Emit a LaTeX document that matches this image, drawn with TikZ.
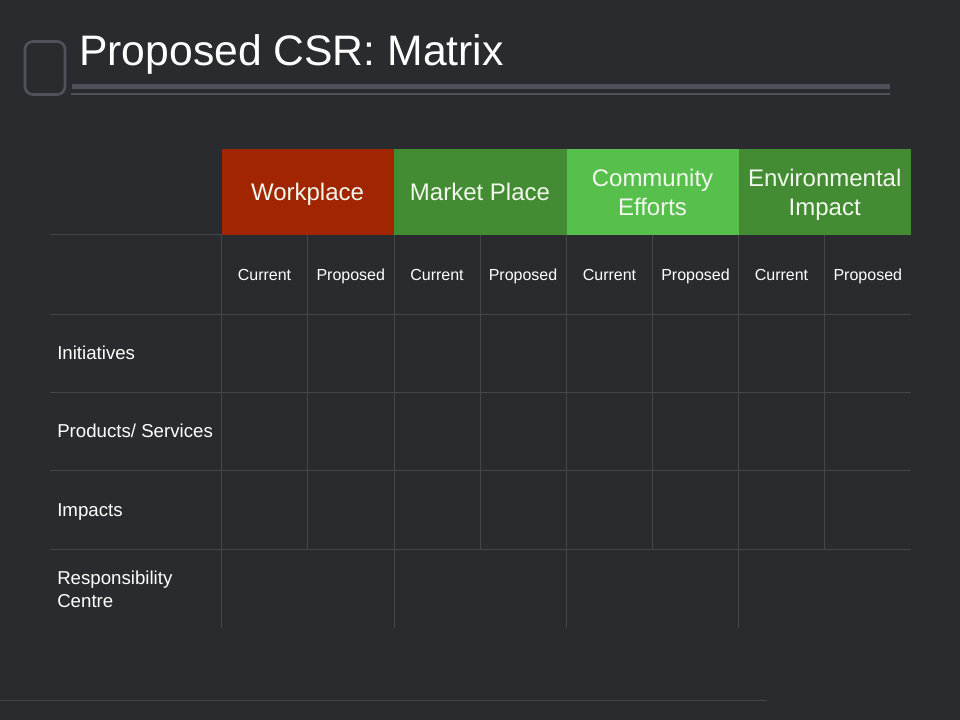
\documentclass[tikz,border=0pt]{standalone}
\usepackage{fontspec}
\setmainfont{Liberation Sans}
\definecolor{bgc}{HTML}{2A2B2F}
\definecolor{gridc}{HTML}{45464A}
\definecolor{barc}{HTML}{50515A}
\definecolor{redc}{HTML}{A02500}
\definecolor{greenc}{HTML}{438C33}
\definecolor{lightc}{HTML}{57C04C}
\definecolor{headtxt}{HTML}{F2F7EE}
\tikzset{
  gridline/.style={draw=gridc,line width=0.75pt},
  headtext/.style={inner sep=0pt,text=headtxt,align=center,font=\fontsize{18}{21.6}\selectfont},
  sublabel/.style={text=white,inner sep=0pt,anchor=base,font=\fontsize{12}{14}\selectfont},
  rowlabel/.style={text=white,inner sep=0pt,anchor=west,align=left,font=\fontsize{14}{17.3}\selectfont},
}
\begin{document}
\begin{tikzpicture}[x=0.75pt,y=-0.75pt]
\useasboundingbox (0,0) rectangle (960,720);
\fill[bgc] (0,0) rectangle (960,720);
% title
\node[anchor=base west,inner sep=0pt,text=white,font=\fontsize{32}{38}\selectfont] (title) at (79,66) {Proposed CSR: Matrix};
\draw[barc,line width=2pt,rounded corners=6pt] (25,41.5) rectangle (65,94.5);
\fill[barc] (72,84) rectangle (890,89);
\fill[barc] (71,93) rectangle (890,95);
% grid
\foreach \yy in {235,314,392,470,549}
  \draw[gridline] (50,\yy) -- (911,\yy);
\foreach \xx in {221.5,394,566.5,738.5}
  \draw[gridline] (\xx,235) -- (\xx,628);
\foreach \xx in {307.5,480,652.5,824.5}
  \draw[gridline] (\xx,235) -- (\xx,549);
% header
\fill[redc] (221.5,149) rectangle (394,235);
\fill[greenc] (394,149) rectangle (566.5,235);
\fill[lightc] (566.5,149) rectangle (738.5,235);
\fill[greenc] (738.5,149) rectangle (911,235);
\node[headtext] (h1) at (307.5,195.2) {\strut Workplace\strut};
\node[headtext] (h2) at (480,195.2) {\strut Market Place\strut};
\node[headtext] (h3) at (652.5,195.2) {\strut Community\\Efforts\strut};
\node[headtext] (h4) at (824.7,195.2) {\strut Environmental\\Impact\strut};
% sub header
\node[sublabel] (c1) at (264.5,281) {Current};
\node[sublabel] (p1) at (350.8,281) {Proposed};
\node[sublabel] (c2) at (437,281) {Current};
\node[sublabel] (p2) at (523,281) {Proposed};
\node[sublabel] (c3) at (609.5,281) {Current};
\node[sublabel] (p3) at (695.5,281) {Proposed};
\node[sublabel] (c4) at (781.5,281) {Current};
\node[sublabel] (p4) at (867.8,281) {Proposed};
% rows
\node[rowlabel] (r1) at (57,354.4) {\strut Initiatives\strut};
\node[rowlabel] (r2) at (57,432.4) {\strut Products/ Services\strut};
\node[rowlabel] (r3) at (57,511.4) {\strut Impacts\strut};
\node[rowlabel] (r4) at (57,591.4) {\strut Responsibility\\Centre\strut};
% footer
\draw[gridc,line width=0.75pt] (0,700.5) -- (767,700.5);
\end{tikzpicture}
\end{document}
